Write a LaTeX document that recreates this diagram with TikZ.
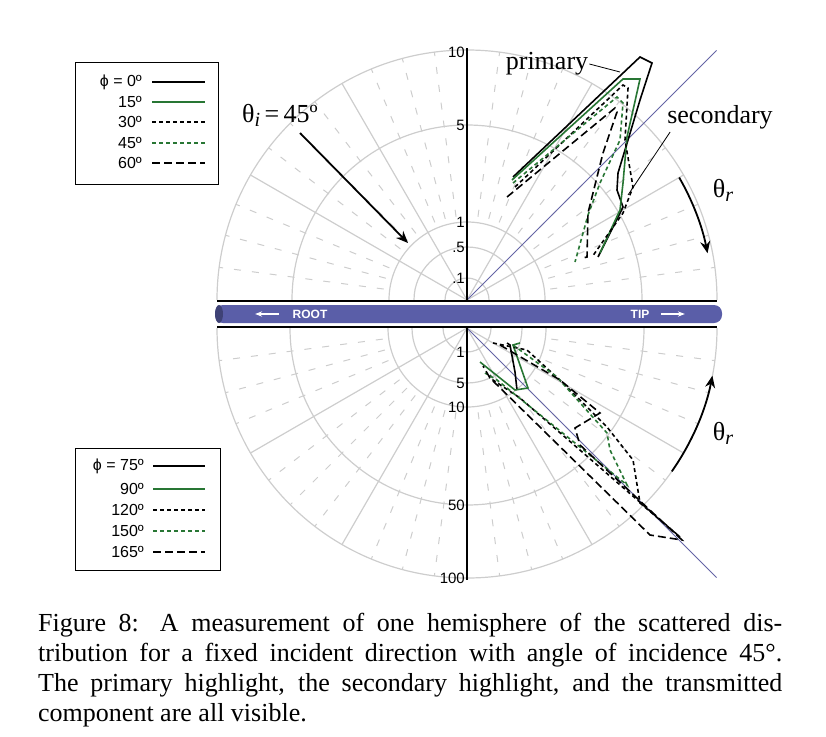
\documentclass[tikz,border=0pt]{standalone}
\usepackage{fontspec}
\setmainfont{Liberation Serif}
\newfontfamily\axisfont{Liberation Sans}
\usetikzlibrary{arrows.meta}
\definecolor{tubeblue}{RGB}{90,94,168}
\definecolor{diagblue}{RGB}{100,100,165}
\definecolor{plotgreen}{RGB}{40,118,52}
\definecolor{gridgray}{RGB}{205,205,205}
\tikzset{
  gridcirc/.style={gridgray, line width=1.2},
  gridtick/.style={gridgray, line width=1, dash pattern=on 7 off 11},
  curveA/.style={black, line width=1.6},
  curveB/.style={plotgreen, line width=1.6},
  curveC/.style={black, line width=1.6, dash pattern=on 4 off 3},
  curveD/.style={plotgreen, line width=1.6, dash pattern=on 4 off 3},
  curveE/.style={black, line width=1.6, dash pattern=on 8 off 4},
  axlabel/.style={font=\axisfont\fontsize{15}{15}\selectfont, anchor=east, inner sep=1},
  legtext/.style={font=\axisfont\fontsize{16}{16}\selectfont, anchor=east, inner sep=1},
  biglabel/.style={font=\fontsize{26}{26}\selectfont, inner sep=1},
  thetaarrow/.style={line width=1.8, -{Stealth[length=12,width=10]}}
}
\begin{document}
\begin{tikzpicture}[x=1pt,y=-1pt]
  \useasboundingbox (0,0) rectangle (826,736);
  % upper hemisphere grid
  \begin{scope}[shift={(467,300)}, yscale=-1]
    \foreach \r in {22,53,78,175,250} \draw[gridcirc] (0:\r) arc (0:180:\r);
    \foreach \a in {30,60,120,150} \draw[gridcirc] (0,0) -- (\a:250);
    \foreach \a in {7.5,15,22.5,37.5,45,52.5,67.5,75,82.5,97.5,105,112.5,127.5,135,142.5,157.5,165,172.5}
      \draw[gridtick] (\a:84) -- (\a:250);
    \draw[diagblue, line width=0.9] (0,0) -- (45:353);
  \end{scope}
  % lower hemisphere grid
  \begin{scope}[shift={(467,328)}]
    \foreach \r in {24,55,79,177,250} \draw[gridcirc] (0:\r) arc (0:180:\r);
    \foreach \a in {30,60,120,150} \draw[gridcirc] (0,0) -- (\a:250);
    \foreach \a in {7.5,15,22.5,37.5,45,52.5,67.5,75,82.5,97.5,105,112.5,127.5,135,142.5,157.5,165,172.5}
      \draw[gridtick] (\a:85) -- (\a:250);
    \draw[diagblue, line width=0.9] (0,0) -- (45:353);
  \end{scope}
  % axes
  \draw[line width=1.3] (467,300) -- (467,48);
  \draw[line width=1.3] (467,328) -- (467,580);
  \foreach \y/\t in {52/10,125/5,222/1,247/.5,278/.1} \node[axlabel] at (466,\y) {\t};
  \foreach \y/\t in {352/1,383/5,407/10,505/50,578/100} \node[axlabel] at (466,\y) {\t};
  % tube
  \draw[line width=1.8] (217,301) -- (717,301);
  \draw[line width=1.8] (217,327) -- (717,327);
  \fill[tubeblue, rounded corners=8] (215,305) rectangle (722,323);
  \fill[tubeblue!70!black] (219,314) ellipse (4 and 9);
  \node[font=\axisfont\bfseries\fontsize{12}{12}\selectfont, text=white] (root) at (310,314) {ROOT};
  \draw[white, line width=1.3, -{Stealth[length=7]}] (root.west) ++(-10,0) -- ++(-24,0);
  \node[font=\axisfont\bfseries\fontsize{12}{12}\selectfont, text=white] (tip) at (640,314) {TIP};
  \draw[white, line width=1.3, -{Stealth[length=7]}] (tip.east) ++(8,0) -- ++(24,0);
  % upper curves
  \draw[curveA] (513,177) -- (640,57) -- (652,63) -- (640,100) -- (628,140) -- (618,173) -- (617,190) -- (623,207) -- (613,227) -- (598,257);
  \draw[curveB] (512,180) -- (623,79) -- (640,79) -- (627,137) -- (623,183) -- (620,210) -- (600,253);
  \draw[curveC] (515,187) -- (623,85) -- (628,88) -- (625,140) -- (633,187) -- (623,213) -- (592,257);
  \draw[curveD] (513,183) -- (617,97) -- (623,103) -- (620,140) -- (600,183) -- (588,215) -- (575,262);
  \draw[curveE] (507,197) -- (615,108) -- (617,112) -- (603,153) -- (588,213) -- (587,257) -- (583,258);
  % lower curves
  \draw[curveA] (507,343) -- (510,345) -- (515,372) -- (517,390);
  \draw[curveB] (480,362) -- (515,390) -- (528,388) -- (513,345) -- (520,343);
  \draw[curveC] (493,343) -- (527,350) -- (563,383) -- (607,427) -- (633,460) -- (640,503) -- (680,537) -- (520,398) -- (493,380) -- (490,375);
  \draw[curveD] (513,345) -- (557,377) -- (607,433) -- (610,450) -- (627,485) -- (497,380) -- (485,373);
  \draw[curveE] (500,345) -- (560,380) -- (600,413) -- (575,428) -- (580,445) -- (682,540) -- (650,535) -- (490,378) -- (483,366);
  % labels
  \node[biglabel] (prim) at (547,64) {primary};
  \draw[line width=0.8] (prim.east) -- (620,72);
  \node[biglabel] (sec) at (720,117) {secondary};
  \draw[line width=0.8] (sec.south west) ++(4,2) -- (628,195);
  \node[biglabel, anchor=west] (thi) at (241,115) {θ\raisebox{-4pt}{\fontsize{20}{20}\selectfont\itshape i}\,=\,45º};
  \coordinate (thiA) at (300,133);
  \coordinate (thiB) at (408,243);
  \draw[thetaarrow] (thiA) -- (thiB);
  \begin{scope}[shift={(467,300)}, yscale=-1]
    \draw[thetaarrow] (30:245) arc (30:11:245);
  \end{scope}
  \node[biglabel] (thr1) at (723,190) {θ\raisebox{-4pt}{\fontsize{20}{20}\selectfont\itshape r}};
  \begin{scope}[shift={(467,328)}]
    \draw[thetaarrow] (35:250) arc (35:11:250);
  \end{scope}
  \node[biglabel] (thr2) at (723,433) {θ\raisebox{-4pt}{\fontsize{20}{20}\selectfont\itshape r}};
  % legends
  \draw[line width=1, fill=white] (75,62) rectangle (218,184);
  \foreach \y/\t/\s in {82/{ϕ = 0º}/curveA,102/15º/curveB,122/30º/curveC,143/45º/curveD,163/60º/curveE}{
    \node[legtext] at (143,\y) {\t};
    \draw[\s] (152,\y) -- (205,\y);
  }
  \draw[line width=1, fill=white] (75,448) rectangle (220,570);
  \foreach \y/\t/\s in {466/{ϕ = 75º}/curveA,489/90º/curveB,510/120º/curveC,531/150º/curveD,552/165º/curveE}{
    \node[legtext] at (145,\y) {\t};
    \draw[\s] (153,\y) -- (205,\y);
  }
  % caption
  \node[anchor=north west, inner sep=0, align=left, font=\fontsize{26}{30}\selectfont] (cap) at (38,613) {%
    \makebox[744pt][s]{Figure 8: A measurement of one hemisphere of the scattered dis-}\\
    \makebox[744pt][s]{tribution for a fixed incident direction with angle of incidence 45°.}\\
    \makebox[744pt][s]{The primary highlight, the secondary highlight, and the transmitted}\\
    component are all visible.};
\end{tikzpicture}
\end{document}
